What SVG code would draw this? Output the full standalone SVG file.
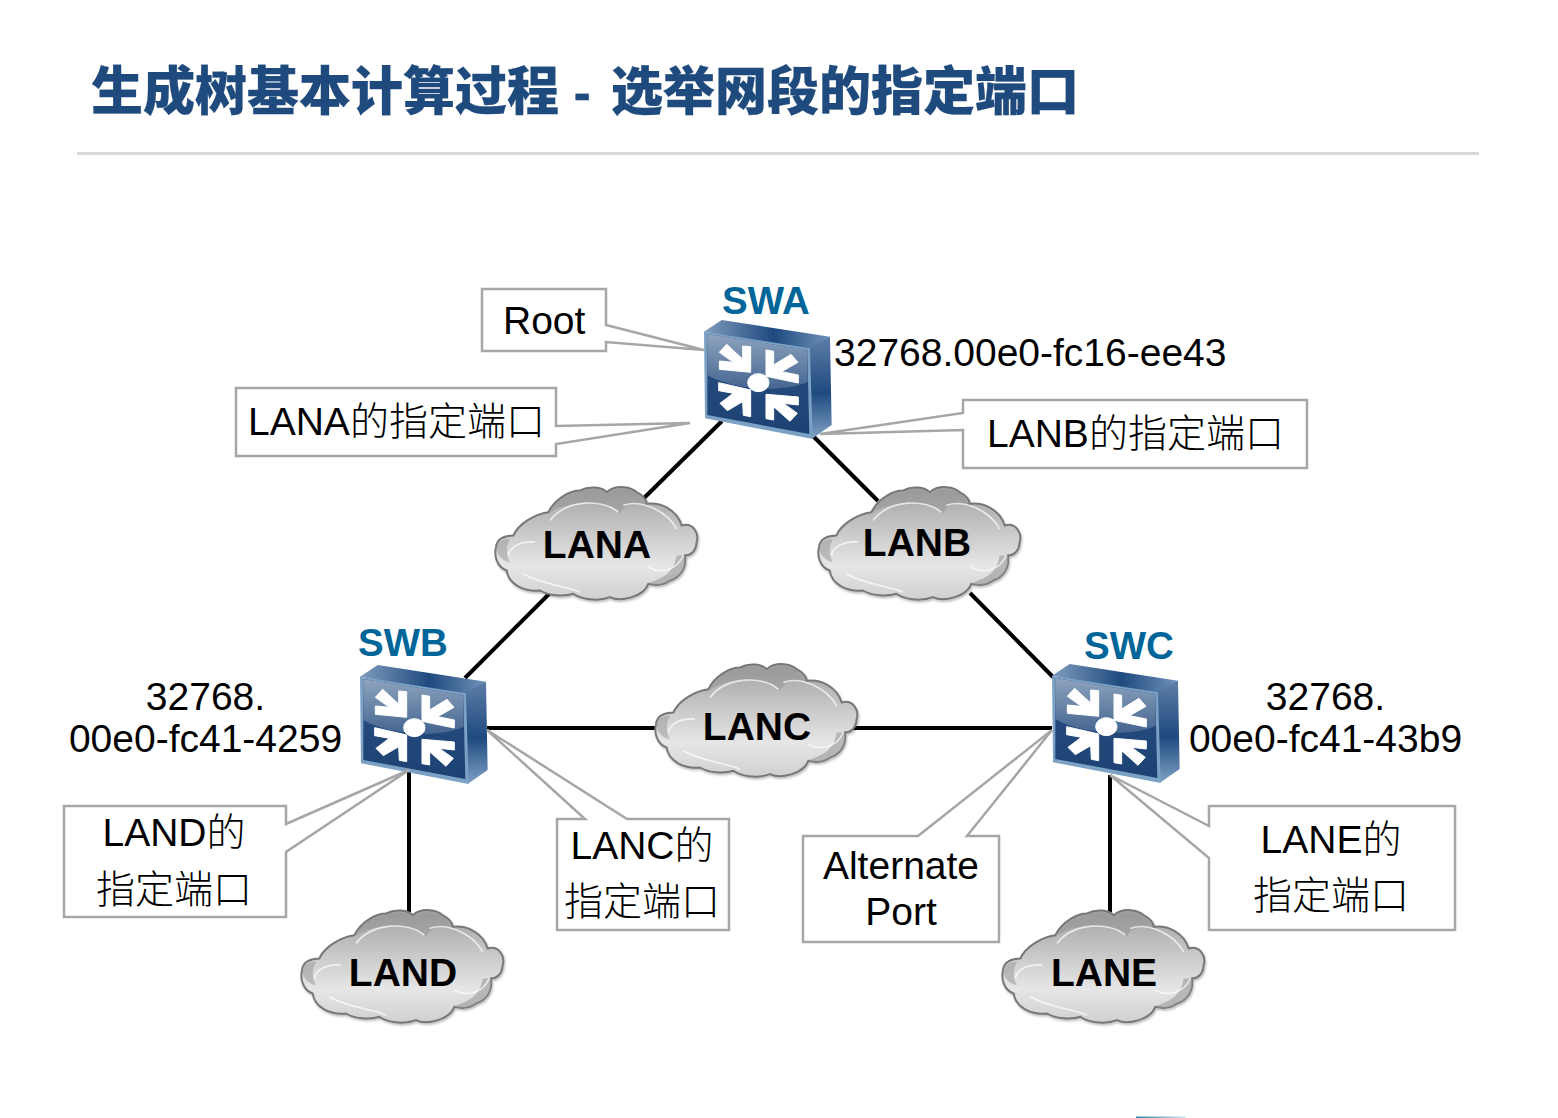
<svg xmlns="http://www.w3.org/2000/svg" width="1558" height="1118" viewBox="0 0 1558 1118">
<style>
text{font-family:"Liberation Sans","Noto Sans CJK SC",sans-serif;font-size:39px;fill:#000;font-weight:300}
.c{text-anchor:middle}
text.b{font-weight:700}
text.sw{font-weight:700;font-size:38.500px;fill:#006699}
text.title{font-size:52px;font-weight:900;fill:#1f4a7d;stroke:#1f4a7d;stroke-width:.25}
.conn{stroke:#000;stroke-width:4;fill:none}
.call{fill:#fff;stroke:#a6a6a6;stroke-width:2.5}
</style>
<defs>
<linearGradient id="gFront" x1="0" y1="0" x2="0" y2="1"><stop offset="0" stop-color="#2b5286"/><stop offset="1" stop-color="#1c4172"/></linearGradient>
<linearGradient id="gGloss" x1="0" y1="0" x2="0" y2="1"><stop offset="0" stop-color="#8ea3bf"/><stop offset="1" stop-color="#456690"/></linearGradient>
<linearGradient id="gTop" x1="0" y1="0" x2="1" y2="0"><stop offset="0" stop-color="#7f9cbd"/><stop offset=".55" stop-color="#1f4a7f"/><stop offset="1" stop-color="#6f92b8"/></linearGradient>
<linearGradient id="gRight" x1="0" y1="0" x2="0" y2="1"><stop offset="0" stop-color="#5d7ea8"/><stop offset=".55" stop-color="#1f4a7f"/><stop offset="1" stop-color="#7fa2c5"/></linearGradient>
<linearGradient id="gCloud" x1="0" y1="0" x2="0" y2="1"><stop offset="0" stop-color="#a2a2a2"/><stop offset=".7" stop-color="#e6e6e6"/><stop offset="1" stop-color="#d0d0d0"/></linearGradient>
<linearGradient id="gBar" x1="0" y1="0" x2="1" y2="0"><stop offset="0" stop-color="#2a86ac"/><stop offset="1" stop-color="#d4e6ef"/></linearGradient>
<filter id="soft" x="-10%" y="-10%" width="125%" height="130%"><feDropShadow dx="3" dy="5" stdDeviation="3" flood-color="#000" flood-opacity=".28"/></filter>
<g id="switch" transform="scale(.3333)">
<path d="M42 65L95 30L420 80L365 125Z" fill="url(#gTop)"/>
<path d="M355 115L420 80L425 345L365 387Z" fill="url(#gRight)"/>
<path d="M42 65L360 115L368 387L45 325Z" fill="#7ba1c5"/>
<path d="M52 72L352 120L358 372L52 315Z" fill="url(#gFront)"/>
<path d="M52 72L352 120L353 215C280 250 130 240 52 195Z" fill="url(#gGloss)"/>
<g fill="#fff" stroke="#fff" stroke-width="3">
<path d="M110 103L88 127L130 157L88 153L88 178L182 187L182 110L158 108L158 147Z"/>
<path d="M303 133L324 157L275 185L325 195L325 219L228 199L228 120L251 124L251 165Z"/>
<path d="M86 218L182 240L182 320L160 316L158 275L112 302L90 280L130 250L86 242Z"/>
<path d="M228 253L228 326L251 330L251 290L300 334L322 310L280 280L325 285L325 261Z"/>
<ellipse cx="205" cy="218" rx="32" ry="27"/>
</g>
</g>
<g id="cloud" transform="scale(.3333)">
<path filter="url(#soft)" d="M48 230C50 205 75 195 100 195C115 160 165 130 205 125C225 85 270 60 300 60C330 45 365 50 380 65C410 40 455 50 470 65C490 75 500 90 500 100C540 95 590 115 605 165C640 155 658 190 650 215C648 245 630 255 615 255C620 295 600 320 570 330C550 345 525 345 505 340C490 380 420 395 390 380C350 395 300 385 280 370C250 380 205 375 180 360C130 365 85 340 80 300C50 290 42 255 48 230Z" fill="url(#gCloud)" stroke="#777" stroke-width="6"/>
<path d="M615 255C620 295 600 320 570 330C550 345 525 345 505 340C530 325 580 320 590 255Z" fill="#9a9a9a" fill-opacity=".6"/>
<path d="M48 230C50 215 70 205 90 205C75 230 80 260 90 275C65 270 50 250 48 230Z" fill="#8f8f8f" fill-opacity=".45"/>
<path d="M205 130C225 90 270 65 300 65C330 52 365 55 380 70C410 50 450 55 470 70C495 85 495 100 500 105C470 95 430 100 420 130C390 90 260 85 205 130Z" fill="#8d8d8d" fill-opacity=".45"/>
<g fill="none" stroke="#fff" stroke-opacity=".7" stroke-width="5">
<path d="M85 255C90 225 130 210 165 215"/>
<path d="M210 150C260 85 370 85 415 125"/>
<path d="M430 105C480 85 560 120 590 175"/>
<path d="M130 310C190 345 260 345 300 365"/>
<path d="M505 290C540 310 590 300 610 255"/>
</g>
</g>
</defs>
<rect width="1558" height="1118" fill="#fff"/>
<text id="title" class="title" x="91" y="110">生成树基本计算过程 - <tspan x="611">选举网段的指定端口</tspan></text>
<rect x="77" y="152" width="1402" height="3" fill="#d9d9d9"/>
<rect x="1136" y="1116.500" width="50" height="1.500" fill="url(#gBar)"/>
<g id="connectors">
<path class="conn" d="M722 421L642 500"/>
<path class="conn" d="M550 593L465 678"/>
<path class="conn" d="M813 436L878 501"/>
<path class="conn" d="M970 593L1053 677"/>
<path class="conn" d="M487 728H657"/>
<path class="conn" d="M850 728H1052"/>
<path class="conn" d="M409 770V912"/>
<path class="conn" d="M1110 775V912"/>
</g>
<g id="SWA"><use href="#switch" transform="translate(690 310)"/><text class="sw" x="722" y="314">SWA</text><text x="834" y="365.500">32768.00e0-fc16-ee43</text></g>
<g id="SWB"><use href="#switch" transform="translate(346 655)"/><text class="sw" x="358" y="656">SWB</text><text class="c" x="205.500" y="709.500">32768.</text><text class="c" x="205.500" y="752">00e0-fc41-4259</text></g>
<g id="SWC"><use href="#switch" transform="translate(1038 654)"/><text class="sw" x="1084" y="658.500">SWC</text><text class="c" x="1325.500" y="709.500">32768.</text><text class="c" x="1325.500" y="752">00e0-fc41-43b9</text></g>
<g id="LANA"><use href="#cloud" transform="translate(480 470.500)"/><text class="b c" x="597" y="558">LANA</text></g>
<g id="LANB"><use href="#cloud" transform="translate(803 470.500)"/><text class="b c" x="917" y="556">LANB</text></g>
<g id="LANC"><use href="#cloud" transform="translate(640 647.500)"/><text class="b c" x="757" y="740">LANC</text></g>
<g id="LAND"><use href="#cloud" transform="translate(286 893.500)"/><text class="b c" x="403" y="986">LAND</text></g>
<g id="LANE"><use href="#cloud" transform="translate(987 893.500)"/><text class="b c" x="1104" y="986">LANE</text></g>
<g id="callout-root"><path class="call" d="M482 289H606V325L704 350L606 342V351H482Z"/><text x="503" y="333.500">Root</text></g>
<g id="callout-lana"><path class="call" d="M236 388H556V426L690 423L556 444V456H236Z"/><text x="248" y="435">LANA的指定端口</text></g>
<g id="callout-lanb"><path class="call" d="M963 400H1307V468H963V430L820 434L963 413Z"/><text x="987" y="447">LANB的指定端口</text></g>
<g id="callout-land"><path class="call" d="M64 806H286V824L409 770L286 852V917H64Z"/><text class="c" x="174" y="846">LAND的</text><text class="c" x="174" y="903">指定端口</text></g>
<g id="callout-lanc"><path class="call" d="M557 819H585L487 730L627 819H729V930H557Z"/><text class="c" x="642" y="859">LANC的</text><text class="c" x="642" y="915">指定端口</text></g>
<g id="callout-alt"><path class="call" d="M803 836H918L1052 730L967 836H999V942H803Z"/><text class="c" x="901" y="879">Alternate</text><text class="c" x="901" y="925">Port</text></g>
<g id="callout-lane"><path class="call" d="M1209 806H1455V930H1209V858L1110 775L1209 826Z"/><text class="c" x="1331" y="853">LANE的</text><text class="c" x="1331" y="909">指定端口</text></g>
</svg>
